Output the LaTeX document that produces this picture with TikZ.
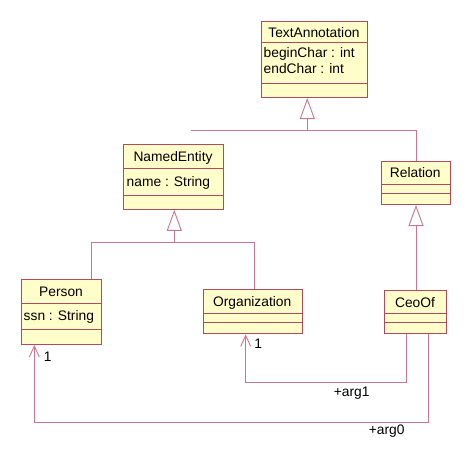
\documentclass[tikz,border=0pt]{standalone}
\usepackage{fontspec}
\setmainfont{Liberation Sans}
\usetikzlibrary{arrows.meta}
\definecolor{boxfill}{RGB}{255,253,202}
\definecolor{boxline}{RGB}{175,75,92}
\definecolor{conn}{RGB}{200,118,145}
\tikzset{
  cls/.style={draw=boxline, fill=boxfill, line width=1pt, rectangle, anchor=north west, inner sep=0pt},
  sepline/.style={draw=boxline, line width=0.8pt},
  txt/.style={inner sep=0pt, font=\fontsize{13.8}{16}\selectfont},
  gen/.style={draw=conn, line width=0.9pt, -{Triangle[open, length=21pt, width=15pt, line width=0.9pt]}},
  plain/.style={draw=conn, line width=0.9pt},
  assoc/.style={draw=conn, line width=0.9pt, -{Straight Barb[length=11pt, width=10pt, line width=0.9pt]}},
}
\begin{document}
\begin{tikzpicture}[x=1pt,y=-1pt]
\useasboundingbox (0,0) rectangle (474,461);

% TextAnnotation
\node[cls, minimum width=106pt, minimum height=76pt] (TA) at (261,21) {};
\draw[sepline] (261,42.3) -- (367,42.3);
\draw[sepline] (261,83.3) -- (367,83.3);
\node[txt, anchor=base] (TAt) at (314,37) {TextAnnotation};
\node[txt, anchor=base west] (TAa1) at (263.5,57.5) {beginChar : int};
\node[txt, anchor=base west] (TAa2) at (263.5,73.5) {endChar : int};

% NamedEntity
\node[cls, minimum width=100pt, minimum height=64.5pt] (NE) at (123,144.3) {};
\draw[sepline] (123,168.3) -- (223,168.3);
\draw[sepline] (123,195) -- (223,195);
\node[txt, anchor=base] (NEt) at (173,161.5) {NamedEntity};
\node[txt, anchor=base west] (NEa) at (126.5,186) {name : String};

% Relation
\node[cls, minimum width=68.5pt, minimum height=43pt] (RE) at (381,161) {};
\draw[sepline] (381,184.3) -- (449.5,184.3);
\draw[sepline] (381,193.3) -- (449.5,193.3);
\node[txt, anchor=base] (REt) at (415.2,177.8) {Relation};

% Person
\node[cls, minimum width=80pt, minimum height=64.7pt] (PE) at (21,279.3) {};
\draw[sepline] (21,303.3) -- (101,303.3);
\draw[sepline] (21,329.3) -- (101,329.3);
\node[txt, anchor=base] (PEt) at (61,296.5) {Person};
\node[txt, anchor=base west] (PEa) at (23.5,320) {ssn : String};

% Organization
\node[cls, minimum width=98.5pt, minimum height=44pt] (OR) at (203,289.3) {};
\draw[sepline] (203,313.3) -- (301.5,313.3);
\draw[sepline] (203,322.3) -- (301.5,322.3);
\node[txt, anchor=base] (ORt) at (252.2,306.5) {Organization};

% CeoOf
\node[cls, minimum width=62pt, minimum height=43.3pt] (CE) at (384,290) {};
\draw[sepline] (384,313.3) -- (446,313.3);
\draw[sepline] (384,322.7) -- (446,322.7);
\node[txt, anchor=base] (CEt) at (415,307) {CeoOf};

% generalization: TextAnnotation
\coordinate (j1) at (307.3,130.7);
\coordinate (j1l) at (191,130.7);
\draw[gen] (j1) -- (j1 |- TA.south);
\draw[plain] (j1l) -- (j1) -| (RE.north -| 416,0);
% Relation <- CeoOf
\draw[gen] (CE.north -| 416,0) -- (RE.south -| 416,0);
% NamedEntity
\coordinate (j2) at (174.3,242.7);
\draw[gen] (j2) -- (j2 |- NE.south);
\draw[plain] (PE.north -| 91,0) |- (j2) -| (OR.north -| 254.7,0);

% associations
\draw[assoc] ([xshift=22pt]CE.south west) -- ++(0,48) -| ([xshift=42.7pt]OR.south west);
\draw[assoc] ([xshift=44pt]CE.south west) -- ++(0,88) -| ([xshift=13.3pt]PE.south west);

\node[txt] (m1) at (258.3,343.5) {1};
\node[txt] (m0) at (47.7,357) {1};
\node[txt] (r1) at (351.7,393.3) {+arg1};
\node[txt] (r0) at (386.7,430.7) {+arg0};
\end{tikzpicture}
\end{document}
